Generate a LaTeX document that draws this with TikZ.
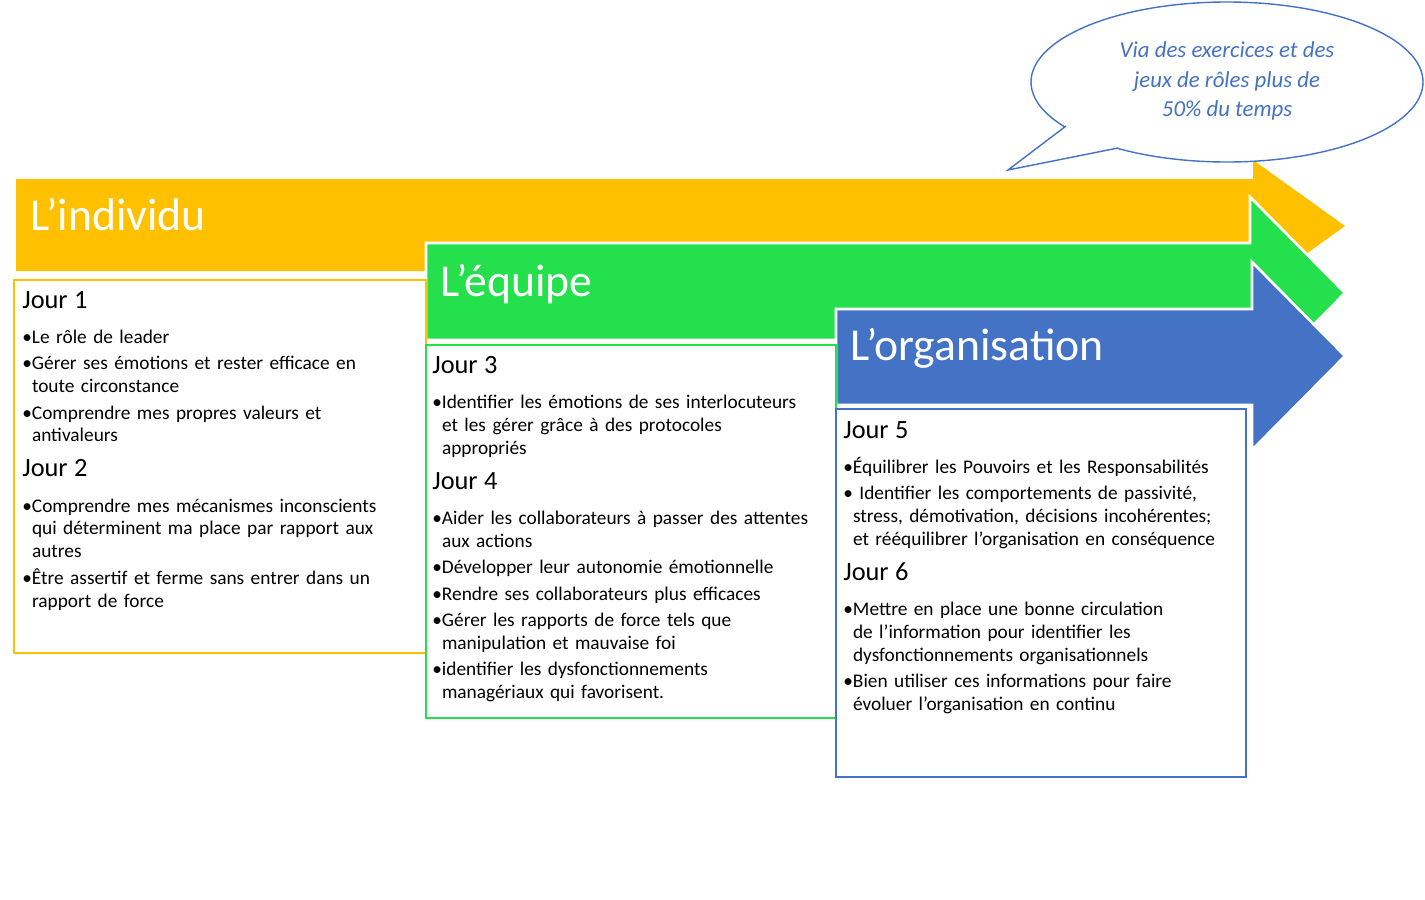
\documentclass[tikz,border=0pt]{standalone}
\usepackage{fontspec}
\setmainfont{Carlito}
\usepackage{tikz}
\usetikzlibrary{positioning}
\definecolor{jaune}{HTML}{FFC000}
\definecolor{vert}{HTML}{24E04C}
\definecolor{bleu}{HTML}{4472C4}
\newcommand{\sanscoupure}{\hyphenpenalty=10000 \exhyphenpenalty=10000 }
\newcommand{\jourtitre}[1]{{\fontsize{15}{18}\selectfont #1\par}\vspace{7pt}}
\newcommand{\puce}[1]{\hangindent=5.5pt\hangafter=1 \textbullet#1\par\vspace{2pt}}
\tikzset{
  titre/.style={anchor=west, text=white, font=\fontsize{26}{30}\selectfont, inner sep=0pt},
  contenu/.style={anchor=north west, inner sep=0pt, align=left, font=\fontsize{11}{13}\selectfont}
}
\begin{document}
\begin{tikzpicture}[x=0.02cm, y=-0.02cm]
\useasboundingbox (0,0) rectangle (1425,899);
% fleches
\fill[jaune] (16,179) -- (1253,179) -- (1253,160) -- (1345,226) -- (1253,292) -- (1253,271) -- (16,271) -- cycle;
\fill[vert, draw=white, line width=1.5pt] (426,243) -- (1250,243) -- (1250,197) -- (1345,293) -- (1250,389) -- (1250,340) -- (426,340) -- cycle;
\fill[bleu, draw=white, line width=1.5pt] (836,309) -- (1252,309) -- (1252,262) -- (1345,356) -- (1252,450) -- (1252,405) -- (836,405) -- cycle;
\node[titre] (individu) at (30,215) {L’individu};
\node[titre] (equipe) at (440,284) {L’équipe};
\node[titre] (organisation) at (850,348) {L’organisation};
% cadres
\draw[jaune, line width=1pt] (14,280) rectangle (426,653);
\draw[vert, line width=1pt] (426,345) rectangle (836,718);
\draw[bleu, line width=1pt] (836,409) rectangle (1246,777);
\node[contenu, text width=207pt] (jours12) at (22,291) {\sanscoupure
\jourtitre{Jour 1}
\puce{Le rôle de leader}
\puce{Gérer ses émotions et rester efficace en toute circonstance}
\puce{Comprendre mes propres valeurs et antivaleurs}
\jourtitre{Jour 2}
\puce{Comprendre mes mécanismes inconscients qui déterminent ma place par rapport aux autres}
\puce{Être assertif et ferme sans entrer dans un rapport de force}};
\node[contenu, text width=216pt] (jours34) at (432,356) {\sanscoupure
\jourtitre{Jour 3}
\puce{Identifier les émotions de ses interlocuteurs et les gérer grâce à des protocoles appropriés}
\jourtitre{Jour 4}
\puce{Aider les collaborateurs à passer des attentes aux actions}
\puce{Développer leur autonomie émotionnelle}
\puce{Rendre ses collaborateurs plus efficaces}
\puce{Gérer les rapports de force tels que manipulation et mauvaise foi}
\puce{identifier les dysfonctionnements managériaux qui favorisent.}};
\node[contenu, text width=216pt] (jours56) at (843,421) {\sanscoupure
\jourtitre{Jour 5}
\puce{Équilibrer les Pouvoirs et les Responsabilités}
\puce{ Identifier les comportements de passivité, stress, démotivation, décisions incohérentes; et rééquilibrer l’organisation en conséquence}
\jourtitre{Jour 6}
\puce{Mettre en place une bonne circulation de l’information pour identifier les dysfonctionnements organisationnels}
\puce{Bien utiliser ces informations pour faire évoluer l’organisation en continu}};
% bulle
\draw[bleu, fill=white, line width=0.8pt] (1227,82) ellipse[x radius=196, y radius=80];
\fill[white] (1066,126) -- (1118,148) -- (1012,168) -- cycle;
\draw[bleu, line width=0.8pt] (1066,126) -- (1008,170) -- (1118,148);
\node[text=bleu, font=\fontsize{13}{17}\selectfont\itshape, align=center] (bulle) at (1227,81) {Via des exercices et des\\jeux de rôles plus de\\50\% du temps};
\end{tikzpicture}
\end{document}
